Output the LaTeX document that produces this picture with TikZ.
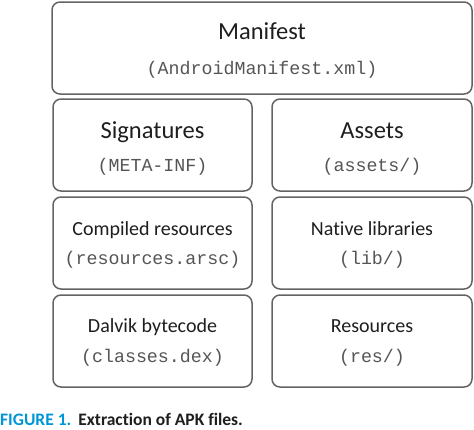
\documentclass[tikz,border=0pt]{standalone}
\usepackage{fontspec}
\setmainfont{Carlito}[Ligatures=NoCommon]
\newfontfamily\monofam{Liberation Mono}
\definecolor{edge}{RGB}{100,100,100}
\definecolor{ink}{RGB}{30,30,30}
\definecolor{fileink}{RGB}{85,85,85}
\definecolor{capblue}{RGB}{0,150,214}
\begin{document}
\begin{tikzpicture}[x=1pt,y=-1pt,
  box/.style={draw=edge, line width=1.5pt, rounded corners=8pt, inner sep=0pt},
  bigtitle/.style={anchor=base, text=ink, font=\fontsize{24.5}{28}\selectfont, inner sep=0pt},
  smalltitle/.style={anchor=base, text=ink, font=\fontsize{20}{24}\selectfont, inner sep=0pt},
  file/.style={anchor=base, text=fileink, font=\monofam\fontsize{18.3}{22}\selectfont, inner sep=0pt}]
\useasboundingbox (0,0) rectangle (474,429);
% boxes
\node[box, minimum width=420pt, minimum height=92pt] (man) at (262,48) {};
\node[box, minimum width=199pt, minimum height=92pt] (sig) at (152.5,145) {};
\node[box, minimum width=200pt, minimum height=92pt] (ast) at (372,145) {};
\node[box, minimum width=199pt, minimum height=92pt] (cmp) at (152.5,243) {};
\node[box, minimum width=200pt, minimum height=92pt] (nat) at (372,243) {};
\node[box, minimum width=199pt, minimum height=92pt] (dex) at (152.5,341) {};
\node[box, minimum width=200pt, minimum height=92pt] (res) at (372,341) {};
% texts
\node[bigtitle] (manT) at (262,39) {Manifest};
\node[file] (manF) at (262,74) {(AndroidManifest.xml)};
\node[bigtitle] (sigT) at (152.5,138) {Signatures};
\node[file] (sigF) at (152.5,171) {(META-INF)};
\node[bigtitle] (astT) at (372,138) {Assets};
\node[file] (astF) at (372,171) {(assets/)};
\node[smalltitle] (cmpT) at (152.5,235) {Compiled resources};
\node[file] (cmpF) at (152.5,264) {(resources.arsc)};
\node[smalltitle] (natT) at (372,235) {Native libraries};
\node[file] (natF) at (372,264) {(lib/)};
\node[smalltitle] (dexT) at (152.5,332) {Dalvik bytecode};
\node[file] (dexF) at (152.5,362) {(classes.dex)};
\node[smalltitle] (resT) at (372,332) {Resources};
\node[file] (resF) at (372,362) {(res/)};
% caption
\node[anchor=base west, inner sep=0pt, font=\bfseries\fontsize{17.5}{20}\selectfont] (cap) at (0,425)
  {\textcolor{capblue}{FIGURE 1.}\hspace{7pt}\textcolor{ink}{Extraction of APK files.}};
\end{tikzpicture}
\end{document}
